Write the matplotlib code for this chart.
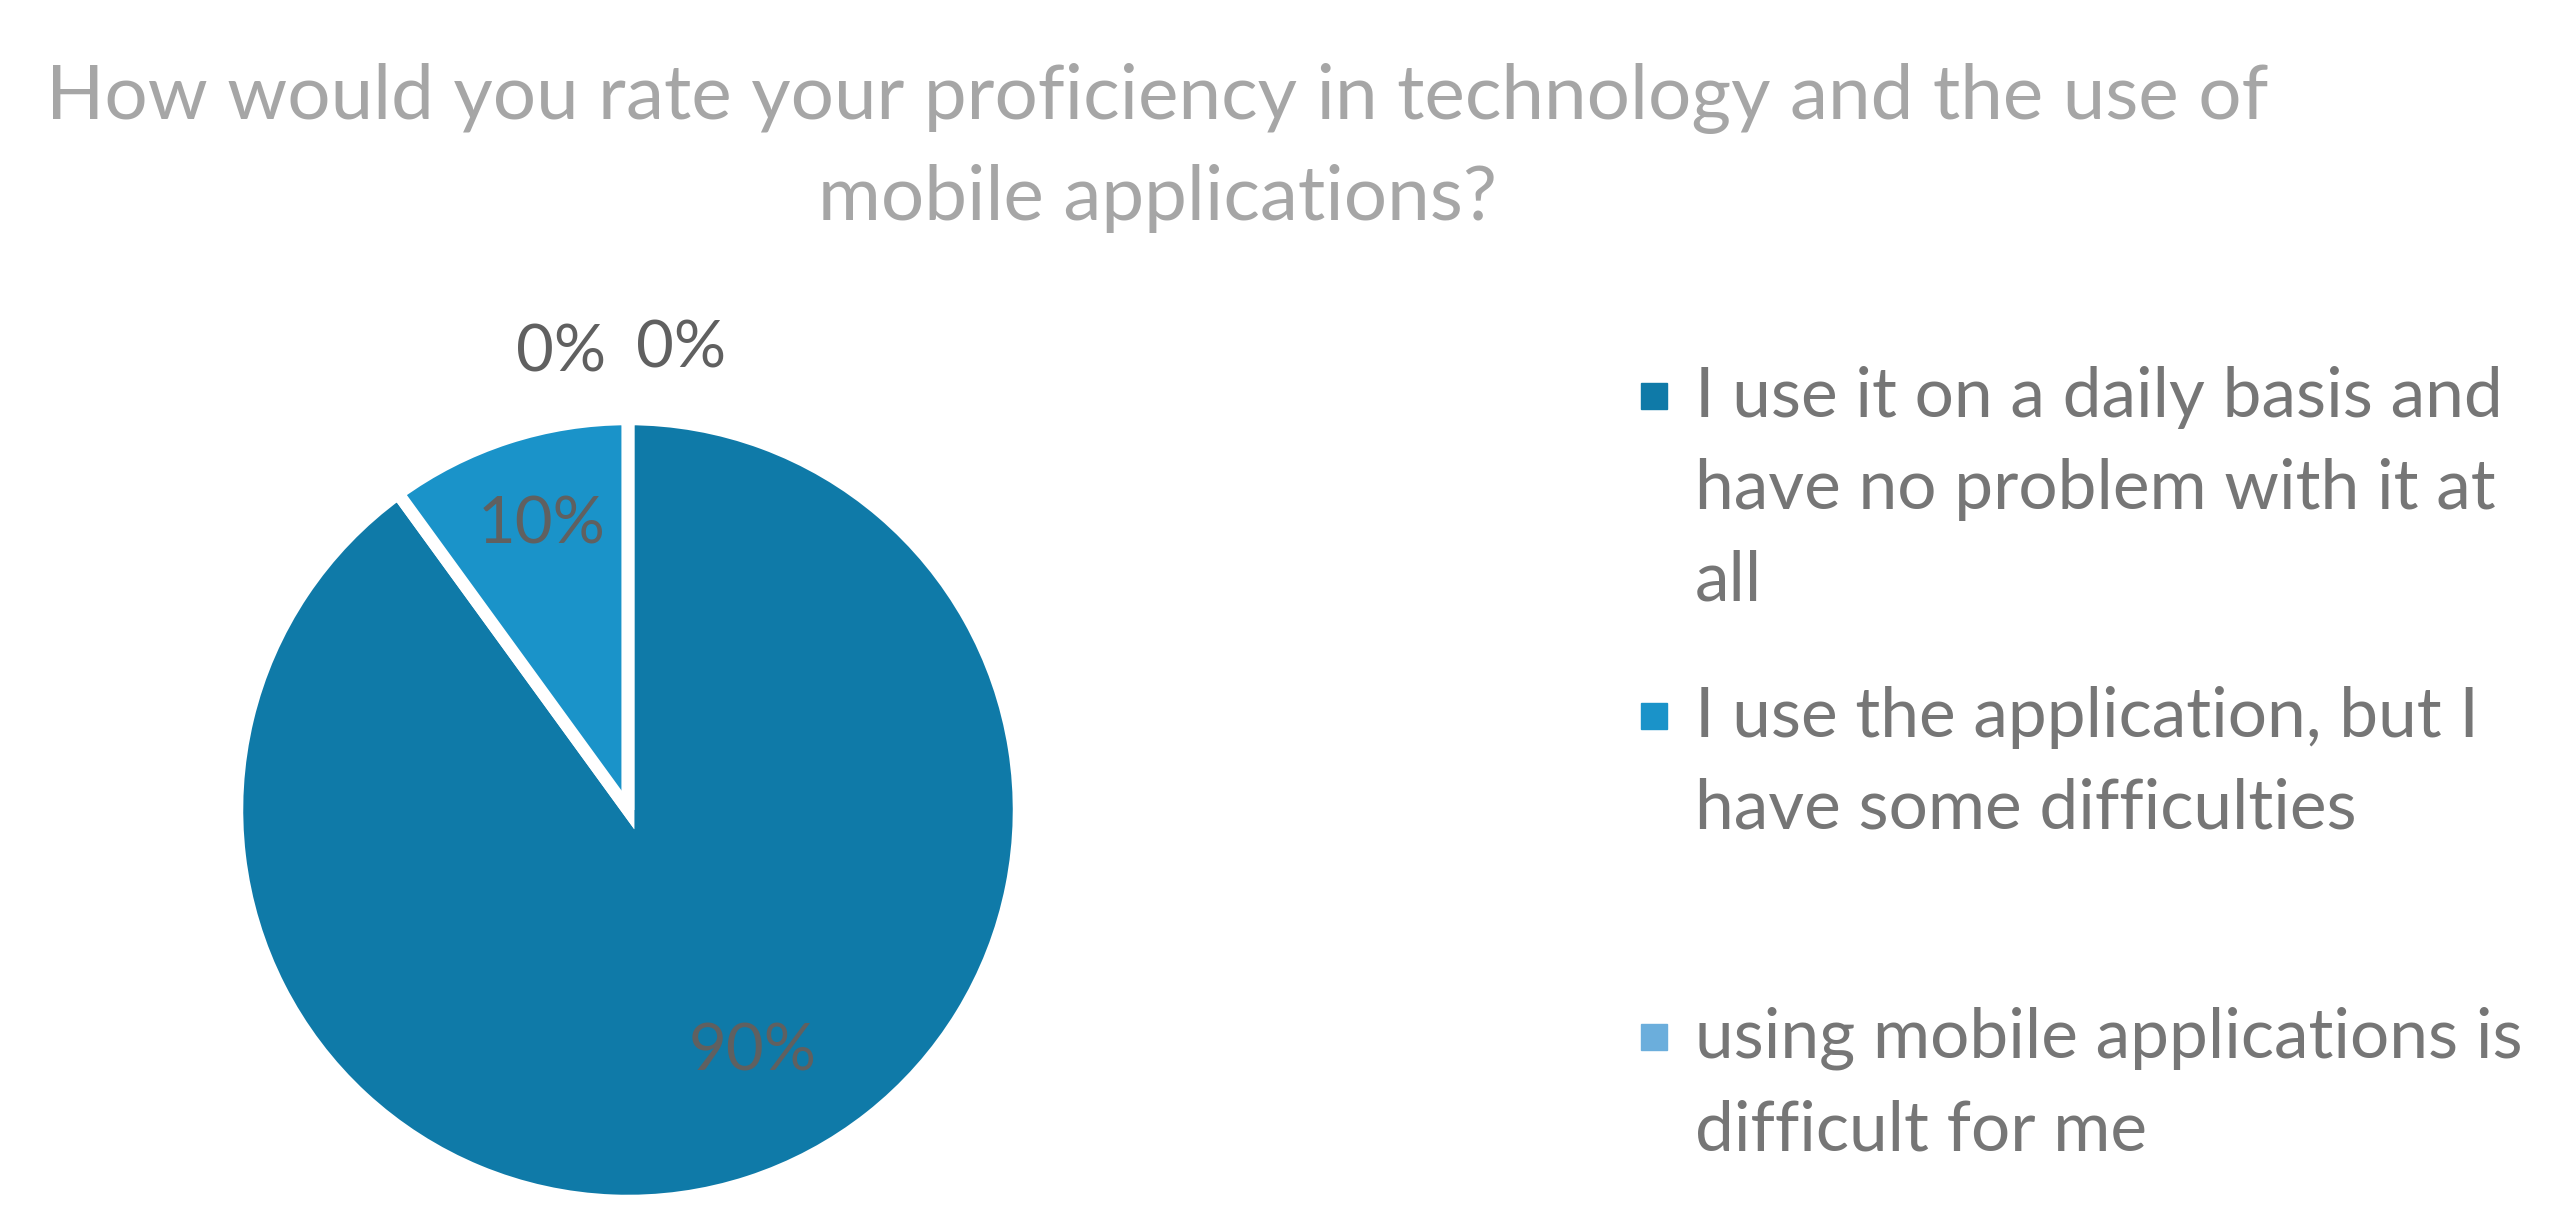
import matplotlib
matplotlib.use("Agg")
import matplotlib.pyplot as plt
from matplotlib.patches import Rectangle

plt.rcParams["font.family"] = ["Lato", "DejaVu Sans"]

title = "How would you rate your proficiency in technology and the use of\nmobile applications?"
categories = [
    "I use it on a daily basis and\nhave no problem with it at\nall",
    "I use the application, but I\nhave some difficulties",
    "using mobile applications is\ndifficult for me",
    "",
]
values = [90, 10, 0, 0]
pct_labels = ["90%", "10%", "0%", "0%"]
colors = ["#0F7AA8", "#1A93C9", "#6BAEDC", "#9CC6E8"]

W, H = 2556, 1216
fig = plt.figure(figsize=(W / 100, H / 100), dpi=100)

# pie axes: centre (628, 810) px from top-left
cx, cy, r = 628, 810, 391
ax = fig.add_axes([(cx - r) / W, (H - cy - r) / H, 2 * r / W, 2 * r / H])
ax.pie(values, colors=colors, startangle=90, counterclock=False, radius=1.0,
       wedgeprops=dict(edgecolor="white", linewidth=9))
ax.set_xlim(-1, 1)
ax.set_ylim(-1, 1)
ax.set_aspect("equal")
ax.axis("off")

# data label spots (pie units), placed like the original
label_pos = [(0.32, -0.62), (-0.22, 0.73), (-0.17, 1.17), (0.135, 1.18)]
for (x, y), t in zip(label_pos, pct_labels):
    ax.text(x, y, t, ha="center", va="center", fontsize=47, color="#606060", clip_on=False)

fig.text(1157 / W, 1 - 148 / H, title, ha="center", va="center", fontsize=55,
         color="#A6A6A6", linespacing=1.55)

# legend drawn by hand, Excel spacing is uneven
leg_y = [396, 716, 1037]
sq = 26
for yy, lab, c in zip(leg_y, categories[:3], colors[:3]):
    fig.add_artist(Rectangle((1641 / W, 1 - (yy + sq / 2) / H), sq / W, sq / H,
                             transform=fig.transFigure, color=c))
    fig.text(1695 / W, 1 - (yy - 30) / H, lab, ha="left", va="top", fontsize=50,
             color="#767676", linespacing=1.56)

fig.savefig("out.png", dpi=100)
